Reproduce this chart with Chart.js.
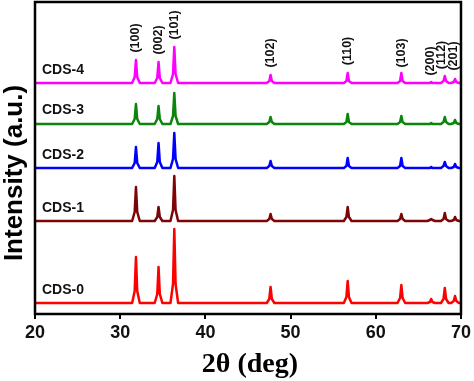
<!DOCTYPE html>
<html>
<head>
<meta charset="utf-8">
<script src="https://cdn.jsdelivr.net/npm/chart.js@4.4.0/dist/chart.umd.min.js"></script>
<style>
    html, body { margin: 0; padding: 0; background: #fff; }
    #wrap { width: 474px; height: 381px; }
</style>
</head>
<body>
<div id="wrap"><canvas id="xrd"></canvas></div>
<script>
// 2-theta points shared by every pattern: each peak is foot, shoulder, apex, shoulder, foot
const twoTheta = [20,
    31.4, 31.7, 31.85, 32.0, 32.3,
    34.05, 34.35, 34.5, 34.65, 34.95,
    35.9, 36.2, 36.35, 36.5, 36.8,
    47.2, 47.5, 47.65, 47.8, 48.1,
    56.25, 56.55, 56.7, 56.85, 57.15,
    62.55, 62.85, 63.0, 63.15, 63.45,
    66.05, 66.35, 66.5, 66.65, 66.95,
    67.65, 67.95, 68.1, 68.25, 68.55,
    68.85, 69.15, 69.3, 69.45, 69.75,
    70];

// stacked intensities (a.u.)
const cds4 = [231,
    231, 237, 254, 237, 231,
    231, 236, 252, 236, 231,
    231, 240, 267, 240, 231,
    231, 233, 239, 233, 231,
    231, 233, 241, 233, 231,
    231, 233, 241, 233, 231,
    231, 231, 232, 231, 231,
    231, 233, 238, 233, 231,
    231, 232, 235, 232, 231,
    231];
const cds3 = [190,
    190, 195, 210, 195, 190,
    190, 195, 208, 195, 190,
    190, 198, 221, 198, 190,
    190, 192, 197, 192, 190,
    190, 192, 200, 192, 190,
    190, 192, 198, 192, 190,
    190, 190, 191, 190, 190,
    190, 192, 197, 192, 190,
    190, 191, 194, 191, 190,
    190];
const cds2 = [146,
    146, 151, 167, 151, 146,
    146, 152, 171, 152, 146,
    146, 155, 181, 155, 146,
    146, 148, 153, 148, 146,
    146, 148, 156, 148, 146,
    146, 148, 156, 148, 146,
    146, 146, 147, 146, 146,
    146, 148, 152, 148, 146,
    146, 147, 150, 147, 146,
    146];
const cds1 = [93,
    93, 102, 127, 102, 93,
    93, 97, 107, 97, 93,
    93, 104, 138, 104, 93,
    93, 95, 100, 95, 93,
    93, 97, 107, 97, 93,
    93, 95, 100, 95, 93,
    93, 94, 95, 94, 93,
    93, 95, 101, 95, 93,
    93, 94, 97, 94, 93,
    93];
const cds0 = [11,
    11, 23, 57, 23, 11,
    11, 20, 47, 20, 11,
    11, 30, 85, 30, 11,
    11, 15, 27, 15, 11,
    11, 17, 33, 17, 11,
    11, 16, 29, 16, 11,
    11, 12, 15, 12, 11,
    11, 15, 26, 15, 11,
    11, 13, 18, 13, 11,
    11];

const sampleNames = ['CDS-4', 'CDS-3', 'CDS-2', 'CDS-1', 'CDS-0'];
const sampleLabelY = [244, 203.5, 159, 106, 24];
const sampleColors = ['#ff00ff', '#0b850b', '#0000ff', '#7d0505', '#ff0000'];

const hklLabels = ['(100)', '(002)', '(101)', '(102)', '(110)', '(103)', '(200)', '(112)', '(201)'];
const hklX = [31.85, 34.5, 36.35, 47.65, 56.7, 63.0, 66.45, 67.75, 69.15];
const hklY = [276, 274, 289, 261, 263, 261, 253, 259, 258];

const xTicks = [20, 30, 40, 50, 60, 70];

function toPoints(ys) {
    return twoTheta.map((x, i) => ({ x: x, y: ys[i] }));
}

const annotations = {
    id: 'annotations',
    afterDraw(chart) {
        const ctx = chart.ctx;
        const area = chart.chartArea;
        const xs = chart.scales.x;
        const ys = chart.scales.y;
        ctx.save();

        // frame
        ctx.strokeStyle = '#000';
        ctx.lineWidth = 2.5;
        ctx.strokeRect(area.left, area.top, area.right - area.left, area.bottom - area.top);

        // sample names
        ctx.fillStyle = '#111';
        ctx.font = 'bold 14px "Liberation Sans", Arial, sans-serif';
        ctx.textAlign = 'left';
        ctx.textBaseline = 'middle';
        sampleNames.forEach((name, i) => {
            ctx.fillText(name, area.left + 7, ys.getPixelForValue(sampleLabelY[i]));
        });

        // miller indices
        ctx.font = 'bold 12.5px "Liberation Sans", Arial, sans-serif';
        ctx.textAlign = 'center';
        hklLabels.forEach((lab, i) => {
            ctx.save();
            ctx.translate(xs.getPixelForValue(hklX[i]), ys.getPixelForValue(hklY[i]));
            ctx.rotate(-Math.PI / 2);
            ctx.fillText(lab, 0, 0);
            ctx.restore();
        });

        // axis titles
        ctx.fillStyle = '#000';
        ctx.font = 'bold 26px "Liberation Sans", Arial, sans-serif';
        ctx.textBaseline = 'alphabetic';
        ctx.save();
        ctx.translate(22, 173);
        ctx.rotate(-Math.PI / 2);
        ctx.fillText('Intensity (a.u.)', 0, 0);
        ctx.restore();

        ctx.font = 'bold 28px "Liberation Serif", "Times New Roman", serif';
        ctx.fillText('2\u03b8 (deg)', (area.left + area.right) / 2 + 2, 372);
        ctx.restore();
    }
};

new Chart(document.getElementById('xrd'), {
    type: 'scatter',
    data: {
        datasets: [cds4, cds3, cds2, cds1, cds0].map((ys, i) => ({
            label: sampleNames[i],
            data: toPoints(ys),
            showLine: true,
            borderColor: sampleColors[i],
            borderWidth: 2.5,
            borderJoinStyle: 'round',
            pointRadius: 0,
            tension: 0
        }))
    },
    options: {
        responsive: true,
        maintainAspectRatio: false,
        animation: false,
        layout: { padding: { top: 2, right: 12, left: 0, bottom: 0 } },
        plugins: { legend: { display: false }, tooltip: { enabled: false } },
        scales: {
            x: {
                type: 'linear',
                min: 20,
                max: 70,
                afterBuildTicks: s => { s.ticks = xTicks.map(v => ({ value: v })); },
                afterFit: s => { s.height = 67; },
                grid: { drawOnChartArea: false, drawTicks: true, tickLength: 5, color: '#000', lineWidth: 2 },
                border: { display: false },
                ticks: {
                    padding: 3,
                    color: '#111',
                    font: { family: '"Liberation Sans", Arial, sans-serif', size: 18, weight: 'bold' },
                    maxRotation: 0
                }
            },
            y: {
                min: 0,
                max: 312,
                afterFit: s => { s.width = 35; },
                grid: { display: false },
                border: { display: false },
                ticks: { display: false }
            }
        }
    },
    plugins: [annotations]
});
</script>
</body>
</html>
